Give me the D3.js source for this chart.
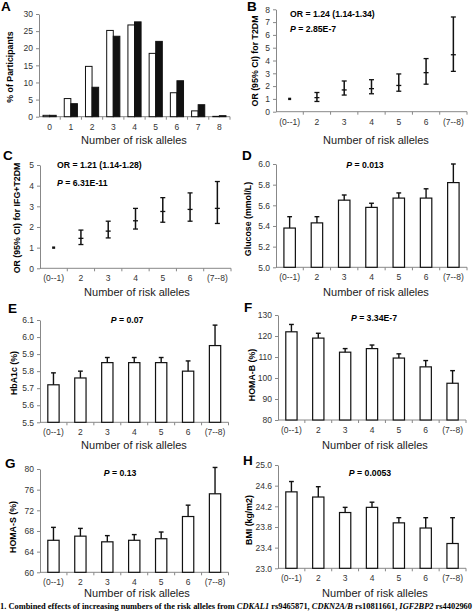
<!DOCTYPE html>
<html>
<head>
<meta charset="utf-8">
<script src="https://cdn.jsdelivr.net/npm/d3@7"></script>
<style>
  body { margin: 0; background: #fff; }
  svg { display: block; font-family: "Liberation Sans", Arial, sans-serif; }
  .tick text { fill: #333; font-size: 8.5px; }
  .domain, .tick line { stroke: #888; }
</style>
</head>
<body>
<div id="chart"></div>
<script>
// Panel A: distribution of risk alleles
var alleleCounts = ["0", "1", "2", "3", "4", "5", "6", "7", "8"];
var pctControl = [0.4, 5.3, 14.7, 25.2, 26.8, 18.5, 7.0, 1.7, 0.1];
var pctT2DM = [0.4, 3.8, 8.6, 23.5, 27.7, 22.0, 10.5, 3.5, 0.3];

// grouped allele categories for B-H
var alleleGroups = ["(0--1)", "2", "3", "4", "5", "6", "(7--8)"];

// B: OR for T2DM
var orT2DM = [1, 1.1, 1.7, 1.8, 2.05, 3.05, 4.45];
var orT2DMLow = [null, 0.8, 1.3, 1.4, 1.6, 2.15, 3.15];
var orT2DMHigh = [null, 1.5, 2.4, 2.5, 2.95, 4.15, 7.4];

// C: OR for IFG+T2DM
var orIFG = [1, 1.45, 1.8, 2.3, 2.75, 2.85, 2.9];
var orIFGLow = [null, 1.15, 1.47, 1.9, 2.23, 2.28, 2.17];
var orIFGHigh = [null, 1.85, 2.28, 2.9, 3.42, 3.65, 4.2];

// D-H: means and upper error
var glucose = [5.38, 5.43, 5.65, 5.58, 5.67, 5.67, 5.82];
var glucoseErr = [5.49, 5.49, 5.70, 5.62, 5.72, 5.76, 6.00];
var hba1c = [5.72, 5.76, 5.85, 5.85, 5.85, 5.80, 5.95];
var hba1cErr = [5.79, 5.80, 5.88, 5.88, 5.88, 5.86, 6.07];
var homaB = [122, 119, 112.3, 114, 109.5, 105.3, 97.5];
var homaBErr = [125.5, 121.3, 114, 115.7, 111.5, 108.3, 103.5];
var homaS = [66.2, 67.0, 65.9, 66.2, 66.5, 70.8, 75.2];
var homaSErr = [68.7, 68.5, 67.1, 67.3, 67.8, 73.0, 80.3];
var bmi = [24.48, 24.38, 24.08, 24.18, 23.88, 23.78, 23.48];
var bmiErr = [24.68, 24.58, 24.18, 24.28, 23.98, 23.98, 23.98];

var svgWidth = 474;
var svgHeight = 611;

var svg = d3.select("#chart")
  .append("svg")
  .attr("width", svgWidth)
  .attr("height", svgHeight);

// build one panel: axes, labels, returns scales
function makePanel(p) {
  var g = svg.append("g");
  var x = d3.scaleBand()
    .domain(p.cats)
    .range([p.x0, p.x1])
    .paddingInner(p.pad)
    .paddingOuter(p.pad / 2);
  var y = d3.scaleLinear()
    .domain(p.domain)
    .range([p.yBot, p.yTop]);

  // y axis
  g.append("g")
    .attr("transform", `translate(${p.x0},0)`)
    .call(d3.axisLeft(y).tickValues(p.ticks).tickFormat(p.fmt).tickSize(3).tickSizeOuter(0).tickPadding(3));

  // x axis: labels only, ticks between categories
  var xa = g.append("g")
    .attr("transform", `translate(0,${p.yBot})`)
    .call(d3.axisBottom(x).tickSize(0).tickPadding(7));
  xa.select(".domain").attr("d", `M${p.x0},0H${p.x1}`);
  g.selectAll(".btick")
    .data(d3.range(1, p.cats.length + 1))
    .enter()
    .append("line")
    .attr("x1", i => p.x0 + i * (p.x1 - p.x0) / p.cats.length)
    .attr("x2", i => p.x0 + i * (p.x1 - p.x0) / p.cats.length)
    .attr("y1", p.yBot)
    .attr("y2", p.yBot + 3)
    .attr("stroke", "#888");

  // panel letter
  g.append("text")
    .attr("x", p.letterX)
    .attr("y", p.letterY)
    .attr("font-size", 13.5)
    .attr("font-weight", "bold")
    .text(p.letter);

  // x label
  g.append("text")
    .attr("x", p.xlabX)
    .attr("y", p.xlabY)
    .attr("text-anchor", "middle")
    .attr("font-size", 11)
    .attr("fill", "#222")
    .text("Number of risk alleles");

  // y label
  g.append("text")
    .attr("transform", `translate(${p.ylabX},${p.ylabY}) rotate(-90)`)
    .attr("text-anchor", "middle")
    .attr("font-size", 8.8)
    .attr("font-weight", "bold")
    .text(p.ylab);

  return { g: g, x: x, y: y };
}

function addP(g, cx, cy, value, anchor) {
  var t = g.append("text")
    .attr("x", cx)
    .attr("y", cy)
    .attr("text-anchor", anchor || "middle")
    .attr("font-size", 8.7)
    .attr("font-weight", "bold");
  t.append("tspan").attr("font-style", "italic").text("P");
  t.append("tspan").text(" = " + value);
}

// bar panel with upper error bars
function barPanel(p, values, errs) {
  var pn = makePanel(p);
  var x = pn.x, y = pn.y;
  pn.g.selectAll(".bar")
    .data(values)
    .enter()
    .append("rect")
    .attr("x", (d, i) => x(p.cats[i]))
    .attr("width", x.bandwidth())
    .attr("y", d => y(d))
    .attr("height", d => y(p.domain[0]) - y(d))
    .attr("fill", "#fff")
    .attr("stroke", "#111")
    .attr("stroke-width", 1.2);
  var eb = pn.g.selectAll(".err")
    .data(errs)
    .enter()
    .append("g");
  eb.append("line")
    .attr("x1", (d, i) => x(p.cats[i]) + x.bandwidth() / 2)
    .attr("x2", (d, i) => x(p.cats[i]) + x.bandwidth() / 2)
    .attr("y1", (d, i) => y(values[i]))
    .attr("y2", d => y(d))
    .attr("stroke", "#111")
    .attr("stroke-width", 1.4);
  eb.append("line")
    .attr("x1", (d, i) => x(p.cats[i]) + x.bandwidth() / 2 - 2.4)
    .attr("x2", (d, i) => x(p.cats[i]) + x.bandwidth() / 2 + 2.4)
    .attr("y1", d => y(d))
    .attr("y2", d => y(d))
    .attr("stroke", "#111")
    .attr("stroke-width", 1.4);
  return pn;
}

// odds ratio panel
function orPanel(p, ors, lows, highs) {
  var pn = makePanel(p);
  var x = pn.x, y = pn.y;
  var cx = i => x(p.cats[i]) + x.bandwidth() / 2;
  ors.forEach(function(d, i) {
    if (lows[i] == null) {
      pn.g.append("rect")
        .attr("x", cx(i) - 1.5).attr("y", y(d) - 1.2)
        .attr("width", 3).attr("height", 2.4)
        .attr("fill", "#111");
      return;
    }
    pn.g.append("line")
      .attr("x1", cx(i)).attr("x2", cx(i))
      .attr("y1", y(lows[i])).attr("y2", y(highs[i]))
      .attr("stroke", "#111").attr("stroke-width", 1.5);
    [lows[i], highs[i], d].forEach(function(v) {
      pn.g.append("line")
        .attr("x1", cx(i) - 2.5).attr("x2", cx(i) + 2.5)
        .attr("y1", y(v)).attr("y2", y(v))
        .attr("stroke", "#111").attr("stroke-width", 1.3);
    });
  });
  return pn;
}

// --- Panel A ---
var pA = makePanel({
  cats: alleleCounts, x0: 39, x1: 230, yTop: 14, yBot: 116.7, pad: 0.38,
  domain: [0, 30], ticks: d3.range(0, 31, 5), fmt: d3.format("d"),
  letter: "A", letterX: 1, letterY: 11,
  xlabX: 134, xlabY: 144, ylabX: 13, ylabY: 67, ylab: "% of Participants"
});
var sub = d3.scaleBand().domain([0, 1]).range([0, pA.x.bandwidth()]);
[pctControl, pctT2DM].forEach(function(series, s) {
  pA.g.selectAll(".barA" + s)
    .data(series)
    .enter()
    .append("rect")
    .attr("x", (d, i) => pA.x(alleleCounts[i]) + sub(s))
    .attr("width", sub.bandwidth())
    .attr("y", d => pA.y(d))
    .attr("height", d => pA.y(0) - pA.y(d))
    .attr("fill", s === 0 ? "#fff" : "#111")
    .attr("stroke", "#111")
    .attr("stroke-width", 1);
});

// --- Panel B ---
var pB = orPanel({
  cats: alleleGroups, x0: 276, x1: 467, yTop: 9.3, yBot: 111.7, pad: 0.58,
  domain: [0, 8], ticks: d3.range(0, 9), fmt: d3.format("d"),
  letter: "B", letterX: 247, letterY: 11,
  xlabX: 376, xlabY: 144, ylabX: 258, ylabY: 61, ylab: "OR (95% CI) for T2DM"
}, orT2DM, orT2DMLow, orT2DMHigh);
pB.g.append("text").attr("x", 290).attr("y", 16.5)
  .attr("font-size", 8.7).attr("font-weight", "bold")
  .text("OR = 1.24 (1.14-1.34)");
addP(pB.g, 290, 31.5, "2.85E-7", "start");

// --- Panel C ---
var pC = orPanel({
  cats: alleleGroups, x0: 40, x1: 231, yTop: 165, yBot: 268.3, pad: 0.58,
  domain: [0, 5], ticks: d3.range(0, 6), fmt: d3.format("d"),
  letter: "C", letterX: 3, letterY: 160,
  xlabX: 137, xlabY: 296, ylabX: 20, ylabY: 218, ylab: "OR (95% CI) for IFG+T2DM"
}, orIFG, orIFGLow, orIFGHigh);
pC.g.append("text").attr("x", 57).attr("y", 168)
  .attr("font-size", 8.7).attr("font-weight", "bold")
  .text("OR = 1.21 (1.14-1.28)");
addP(pC.g, 57, 186, "6.31E-11", "start");

// --- Panel D ---
var pD = barPanel({
  cats: alleleGroups, x0: 276, x1: 467, yTop: 164, yBot: 267.3, pad: 0.58,
  domain: [5, 6], ticks: d3.range(5, 6.01, 0.2), fmt: d3.format(".1f"),
  letter: "D", letterX: 242, letterY: 160,
  xlabX: 376, xlabY: 296, ylabX: 251, ylabY: 219, ylab: "Glucose (mmol/L)"
}, glucose, glucoseErr);
addP(pD.g, 365, 168, "0.013");

// --- Panel E ---
var pE = barPanel({
  cats: alleleGroups, x0: 40, x1: 228.5, yTop: 320, yBot: 422.3, pad: 0.58,
  domain: [5.5, 6.1], ticks: d3.range(5.5, 6.11, 0.1), fmt: d3.format(".1f"),
  letter: "E", letterX: 8, letterY: 313,
  xlabX: 134, xlabY: 449, ylabX: 17, ylabY: 373, ylab: "HbA1c (%)"
}, hba1c, hba1cErr);
addP(pE.g, 127, 323, "0.07");

// --- Panel F ---
var pF = barPanel({
  cats: alleleGroups, x0: 278, x1: 466, yTop: 315, yBot: 420, pad: 0.58,
  domain: [80, 130], ticks: d3.range(80, 131, 10), fmt: d3.format("d"),
  letter: "F", letterX: 244, letterY: 312,
  xlabX: 375, xlabY: 449, ylabX: 255, ylabY: 375, ylab: "HOMA-B (%)"
}, homaB, homaBErr);
addP(pF.g, 374, 321, "3.34E-7");

// --- Panel G ---
var pG = barPanel({
  cats: alleleGroups, x0: 40, x1: 228.5, yTop: 469, yBot: 572.3, pad: 0.58,
  domain: [60, 80], ticks: d3.range(60, 81, 4), fmt: d3.format("d"),
  letter: "G", letterX: 5, letterY: 468,
  xlabX: 137, xlabY: 597, ylabX: 16, ylabY: 527, ylab: "HOMA-S (%)"
}, homaS, homaSErr);
addP(pG.g, 120, 476, "0.13");

// --- Panel H ---
var pH = barPanel({
  cats: alleleGroups, x0: 278, x1: 466, yTop: 465, yBot: 568.3, pad: 0.58,
  domain: [23, 25], ticks: d3.range(23, 25.01, 0.4), fmt: d3.format(".1f"),
  letter: "H", letterX: 243, letterY: 465,
  xlabX: 375, xlabY: 597, ylabX: 252, ylabY: 520, ylab: "BMI (kg/m2)"
}, bmi, bmiErr);
addP(pH.g, 370, 476, "0.0053");

// figure caption along the bottom edge
var cap = svg.append("text")
  .attr("x", 0)
  .attr("y", 608.5)
  .attr("font-family", "'Liberation Serif', 'Times New Roman', serif")
  .attr("font-size", 8)
  .attr("font-weight", "bold")
  .attr("textLength", 472)
  .attr("lengthAdjust", "spacingAndGlyphs");
cap.append("tspan").text("1. Combined effects of increasing numbers of the risk alleles from ");
cap.append("tspan").attr("font-style", "italic").text("CDKAL1");
cap.append("tspan").text(" rs9465871, ");
cap.append("tspan").attr("font-style", "italic").text("CDKN2A/B");
cap.append("tspan").text(" rs10811661, ");
cap.append("tspan").attr("font-style", "italic").text("IGF2BP2");
cap.append("tspan").text(" rs4402960");
</script>
</body>
</html>
